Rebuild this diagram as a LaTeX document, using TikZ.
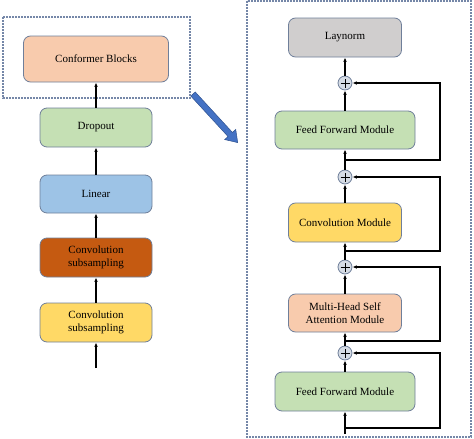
\documentclass[tikz,border=0pt]{standalone}
\usepackage{fontspec}
\setmainfont{Liberation Serif}
\usetikzlibrary{arrows.meta,calc}
\definecolor{bordc}{HTML}{6F7F9A}
\definecolor{dashc}{HTML}{7587A8}
\definecolor{peach}{HTML}{F8CBAD}
\definecolor{lgreen}{HTML}{C5E0B4}
\definecolor{lblue}{HTML}{9DC3E6}
\definecolor{burnt}{HTML}{C55A11}
\definecolor{yell}{HTML}{FFD966}
\definecolor{lgray}{HTML}{D0CECE}
\definecolor{pluscol}{HTML}{D6DCE5}
\definecolor{bigarrow}{HTML}{4472C4}
\definecolor{bigarrowb}{HTML}{2F528F}
\tikzset{
  blk/.style={draw=bordc, line width=0.8pt, rounded corners=7pt, align=center,
    font=\fontsize{11}{13}\selectfont, inner sep=1pt},
  plusnode/.style={circle, draw=bordc, fill=pluscol, line width=0.8pt, minimum size=14pt, inner sep=0pt,
    path picture={\draw[black, line width=0.7pt] ([xshift=-4.5pt]path picture bounding box.center) -- ([xshift=4.5pt]path picture bounding box.center);
                  \draw[black, line width=0.7pt] ([yshift=-4.5pt]path picture bounding box.center) -- ([yshift=4.5pt]path picture bounding box.center);}},
  conn/.style={line width=1.2pt, -{Latex[length=4.5pt,width=3.6pt]}},
  dbox/.style={draw=dashc, line width=1.1pt, dash pattern=on 1.8pt off 1.2pt}
}
\begin{document}
\begin{tikzpicture}[x=1pt,y=-1pt]
\useasboundingbox (0,0) rectangle (474,439);
% left column
\node[blk, fill=peach, minimum width=145pt, minimum height=46pt] (conf) at (96,59) {Conformer Blocks};
\node[blk, fill=lgreen, minimum width=112pt, minimum height=39pt] (drop) at (96,127.5) {Dropout};
\node[blk, fill=lblue, minimum width=112pt, minimum height=38pt] (lin) at (96,194) {Linear};
\node[blk, fill=burnt, minimum width=112pt, minimum height=39pt] (cs1) at (96,257.5) {Convolution\\subsampling};
\node[blk, fill=yell, minimum width=112pt, minimum height=39pt] (cs2) at (96,322.5) {Convolution\\subsampling};
\coordinate (inL) at (96,368);
\draw[conn] (inL) -- (cs2.south);
\draw[conn] (cs2.north) -- (cs1.south);
\draw[conn] (cs1.north) -- (lin.south);
\draw[conn] (lin.north) -- (drop.south);
\draw[dbox] (3,17) rectangle (190,98);
\draw[conn] (drop.north) -- (conf.south);
% big arrow
\begin{scope}[shift={(193,94)}, rotate=-47.4]
\draw[fill=bigarrow, draw=bigarrowb, line width=0.5pt] (0,3) -- (55,3) -- (55,7.5) -- (66,0) -- (55,-7.5) -- (55,-3) -- (0,-3) -- cycle;
\end{scope}
% right column
\draw[dbox] (247,1) rectangle (471,437);
\node[blk, fill=lgray, minimum width=113pt, minimum height=39pt] (lay) at (345,37.5) {Laynorm};
\node[plusnode] (p1) at (345,83) {};
\node[blk, fill=lgreen, minimum width=140pt, minimum height=38pt] (ffm2) at (345,130) {Feed Forward Module};
\node[plusnode] (p2) at (345,177) {};
\node[blk, fill=yell, minimum width=113pt, minimum height=39pt] (conv) at (345,222.5) {Convolution Module};
\node[plusnode] (p3) at (345,267) {};
\node[blk, fill=peach, minimum width=113pt, minimum height=38pt] (mhsa) at (345,313) {Multi-Head Self\\Attention Module};
\node[plusnode] (p4) at (345,353) {};
\node[blk, fill=lgreen, minimum width=140pt, minimum height=39pt] (ffm1) at (345,391.5) {Feed Forward Module};
\coordinate (inR) at (345,434);
\coordinate (j1) at (345,428);
\coordinate (j2) at (345,341);
\coordinate (j3) at (345,251);
\coordinate (j4) at (345,160);
\draw[conn] (inR) -- (ffm1.south);
\draw[conn] (ffm1.north) -- (p4.south);
\draw[conn] (p4.north) -- (mhsa.south);
\draw[conn] (mhsa.north) -- (p3.south);
\draw[conn] (p3.north) -- (conv.south);
\draw[conn] (conv.north) -- (p2.south);
\draw[conn] (p2.north) -- (ffm2.south);
\draw[conn] (ffm2.north) -- (p1.south);
\draw[conn] (p1.north) -- (lay.south);
\draw[conn] (j1) -- (440,428) |- (p4.east);
\draw[conn] (j2) -- (440,341) |- (p3.east);
\draw[conn] (j3) -- (440,251) |- (p2.east);
\draw[conn] (j4) -- (440,160) |- (p1.east);
\end{tikzpicture}
\end{document}
